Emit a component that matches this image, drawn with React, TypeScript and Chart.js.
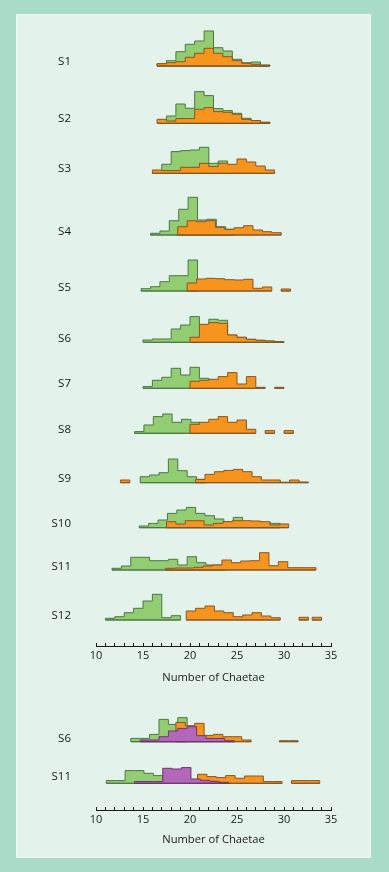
import React, { useEffect, useRef } from "react";
import { Chart, registerables } from "chart.js";

Chart.register(...registerables);

type Series = { start: number; h: (number | null)[] };

// ---------------- data ----------------
const X_MIN = 10;
const X_MAX = 35;
const X_LABEL_STEP = 5;
const X_TITLE = "Number of Chaetae";

const TOP_ROWS = ["S1", "S2", "S3", "S4", "S5", "S6", "S7", "S8", "S9", "S10", "S11", "S12"];
const BOTTOM_ROWS = ["S6", "S11"];

// heights of each one-chaeta bin, starting at `start` (left bin edge)
const S1_GREEN: Series = { start: 16.5, h: [2.3, 5.3, 14.3, 21.7, 25, 35, 18.3, 15, 6.7, 3.3, 4, 1] };
const S1_ORANGE: Series = { start: 16.5, h: [2.3, 3.3, 4.3, 8.7, 12.7, 17.7, 12.7, 9.3, 5.3, 2.7, 1.7, 0.7] };
const S2_GREEN: Series = { start: 17.5, h: [7.3, 19.3, 15, 31.7, 27.7, 14.7, 12.7, 10, 5, 2.7, 1] };
const S2_ORANGE: Series = { start: 16.5, h: [4, 2.3, 4.7, 4.7, 14, 15.7, 11.7, 11, 9, 4, 2.7, 1] };
const S3_GREEN: Series = { start: 17, h: [9, 21.7, 22.7, 23.3, 26, 10, 12.3, 8] };
const S3_ORANGE: Series = { start: 16, h: [3.3, 2.7, 2.7, 6, 6, 10, 6.7, 10, 9, 14.3, 11.3, 7.3, 3.3] };
const S4_GREEN: Series = { start: 15.8, h: [1.7, 4, 14.3, 25.7, 37.7, 15, 15.7, 8.3, 5.7] };
const S4_ORANGE: Series = { start: 18.7, h: [8.3, 14.3, 13.3, 14.3, 7.7, 5.7, 7.3, 9.3, 5, 3.3, 2.3] };
const S5_GREEN: Series = { start: 14.8, h: [2.3, 4.3, 9.3, 15.3, 15.3, 31] };
const S5_ORANGE: Series = { start: 19.7, h: [8, 12, 12.7, 12.3, 11.3, 11, 11.7, 2.7, 4, null, 2] };
const S6_GREEN: Series = { start: 15, h: [2.3, 3.3, 3.3, 13.3, 17.3, 25.7, 17.3, 23, 22, 7.3, 5, 3, 2, 1.3, 0.7] };
const S6_ORANGE: Series = { start: 20, h: [5, 18, 19.7, 19, 7.3, 5, 3, 2, 1.3, 0.7] };
const S7_GREEN: Series = { start: 15, h: [1.7, 8, 11, 20, 13.3, 21, 10, 6] };
const S7_ORANGE: Series = { start: 20, h: [7, 8, 9, 11.7, 15.7, 4.3, 11.7, 1, null, 1] };
const S8_GREEN: Series = { start: 14.1, h: [1.7, 8.3, 16.7, 19.3, 11, 14, 11] };
const S8_ORANGE: Series = { start: 20, h: [9, 11, 14, 16.7, 11, 13.3, 4, null, 2.7, null, 2.7] };
const S9_GREEN: Series = { start: 14.7, h: [6, 7.7, 10, 23.7, 12, 6, 3.3] };
const S9_ORANGE: Series = { start: 12.6, h: [2.7, null, null, null, null, null, null, null, 3.3, 8.3, 11, 12.3, 13.3, 11, 6, 2.7, 2.7, 0.5, 2.7, 0.7] };
const S10_GREEN: Series = { start: 14.6, h: [1.7, 4.3, 7.7, 14.3, 17.7, 20.3, 14.3, 12, 8.7, 6, 10.3, 6, 6, 5, 4.3] };
const S10_ORANGE: Series = { start: 17.5, h: [6, 3.7, 7, 7, 2.7, 4.3, 6, 7, 7, 6.7, 6, 2.7, 3.7] };
const S11_GREEN: Series = { start: 11.7, h: [1.7, 4, 12.7, 12.7, 9.3, 9.3, 10.7, 5, 13.3, 7.3, 5, 5] };
const S11_ORANGE: Series = { start: 17.4, h: [1.7, 2, 2, 2.7, 4, 5, 10, 7.3, 9, 9.3, 17.3, 4.3, 8.3, 2.3, 2.3, 2.3] };
const S12_GREEN: Series = { start: 11, h: [1.7, 3.3, 7.3, 11.7, 19, 25.7, 2.3, 4.3] };
const S12_ORANGE: Series = { start: 19.6, h: [9, 11.7, 14, 9, 7.3, 3.3, 5, 7.3, 4, 2.3, null, null, 2.7] };
const S12_ORANGE_TAIL: Series = { start: 33, h: [2.7] };

const B6_GREEN: Series = { start: 13.7, h: [3.3, 3.3, 7.3, 22.3, 17.3, 24] };
const B6_ORANGE: Series = { start: 18.5, h: [19.3, 16, 18.3, 6.3, 7.3, 5, 5, 1.7, null, null, null, 1, 1] };
const B6_PURPLE: Series = { start: 14.7, h: [1.7, 1.7, 5, 10.7, 13.3, 15, 6, 3.3, 3.3, 1] };
const B11_GREEN: Series = { start: 11.1, h: [2.7, 2.7, 12.7, 12.7, 10, 7.7] };
const B11_ORANGE: Series = { start: 20.8, h: [9, 6.7, 5.7, 7.7, 5, 7.3, 7.3, 1.7, 1.7, null, 2.7, 2.7, 2.7] };
const B11_PURPLE: Series = { start: 14.1, h: [1.7, 1.7, 1.7, 15, 14.3, 15.7, 4.3, 3, 2, 1] };

const TOP_GREEN = [S1_GREEN, S2_GREEN, S3_GREEN, S4_GREEN, S5_GREEN, S6_GREEN, S7_GREEN, S8_GREEN, S9_GREEN, S10_GREEN, S11_GREEN, S12_GREEN];
const TOP_ORANGE = [S1_ORANGE, S2_ORANGE, S3_ORANGE, S4_ORANGE, S5_ORANGE, S6_ORANGE, S7_ORANGE, S8_ORANGE, S9_ORANGE, S10_ORANGE, S11_ORANGE, S12_ORANGE];
const BOTTOM_GREEN = [B6_GREEN, B11_GREEN];
const BOTTOM_ORANGE = [B6_ORANGE, B11_ORANGE];
const BOTTOM_PURPLE = [B6_PURPLE, B11_PURPLE];

// ---------------- layout (row baselines, in y-scale units = px above the axis) ----------------
const TOP_BASE = [577, 519.7, 469.7, 408, 352, 300.7, 254.7, 209.7, 160.3, 115.3, 73, 23];
const TOP_LABEL_AT = [581, 524, 474, 411.5, 355.5, 304, 259, 213, 164.5, 119, 76, 27];
const BOTTOM_BASE = [65.3, 23.7];
const BOTTOM_LABEL_AT = [68.5, 30];

// ---------------- styles ----------------
const GREEN = { fill: "#93cd72", line: "#4d7646" };
const ORANGE = { fill: "#f7941e", line: "#855522" };
const PURPLE = { fill: "#b466b8", line: "#6c3570" };
const TEXT = "#1a1a1a";
const FONT = "'Open Sans', 'Noto Sans', sans-serif";
const TICK_LEN = 3;

function pieces(series: Series, base: number, style: { fill: string; line: string }, order: number) {
  const out: any[] = [];
  const h = series.h;
  let i = 0;
  while (i < h.length) {
    if (h[i] == null) { i++; continue; }
    let j = i;
    while (j < h.length && h[j] != null) j++;
    const pts: { x: number; y: number }[] = [{ x: series.start + i, y: base }];
    for (let k = i; k < j; k++) pts.push({ x: series.start + k, y: base + (h[k] as number) });
    pts.push({ x: series.start + j, y: base });
    pts.push({ x: series.start + i, y: base });
    pts.push({ x: series.start + j, y: base });
    out.push({
      type: "line",
      data: pts,
      stepped: true,
      fill: { value: base },
      backgroundColor: style.fill,
      borderColor: style.line,
      borderWidth: 1,
      borderJoinStyle: "miter",
      pointRadius: 0,
      pointHoverRadius: 0,
      tension: 0,
      clip: false,
      order,
    });
    i = j;
  }
  return out;
}

const axisLine = {
  id: "axisLine",
  afterDraw(chart: any) {
    const xs = chart.scales.x;
    const ctx = chart.ctx;
    const y = Math.round(chart.chartArea.bottom + TICK_LEN) + 0.5;
    ctx.save();
    ctx.strokeStyle = TEXT;
    ctx.lineWidth = 1;
    ctx.beginPath();
    ctx.moveTo(Math.round(xs.getPixelForValue(X_MIN)), y);
    ctx.lineTo(Math.round(xs.getPixelForValue(X_MAX)) + 1, y);
    ctx.stroke();
    ctx.restore();
  },
};

function makeChart(
  canvas: HTMLCanvasElement,
  opts: { rows: string[]; labelAt: number[]; datasets: any[]; yMax: number; padTop: number; xHeight: number; titlePad: number }
) {
  return new Chart(canvas, {
    type: "line",
    data: { datasets: opts.datasets },
    plugins: [axisLine],
    options: {
      responsive: false,
      animation: false,
      devicePixelRatio: 1,
      events: [],
      layout: { padding: { left: 0, right: 58, top: opts.padTop, bottom: 0 } },
      plugins: { legend: { display: false }, tooltip: { enabled: false } },
      scales: {
        x: {
          type: "linear",
          min: X_MIN,
          max: X_MAX,
          afterFit: (s: any) => { s.height = opts.xHeight; },
          border: { display: false },
          grid: { display: true, drawOnChartArea: false, drawTicks: true, tickLength: TICK_LEN, tickColor: TEXT, tickWidth: 1 },
          ticks: {
            stepSize: 1,
            maxTicksLimit: 100,
            autoSkip: false,
            maxRotation: 0,
            padding: 3,
            color: TEXT,
            font: { family: FONT, size: 11 },
            callback: (v: any) => (Number(v) % X_LABEL_STEP === 0 ? String(v) : ""),
          },
          title: {
            display: true,
            text: X_TITLE,
            color: TEXT,
            font: { family: FONT, size: 11.2 },
            padding: { top: 0, bottom: opts.titlePad },
          },
        },
        y: {
          type: "linear",
          min: 0,
          max: opts.yMax,
          afterFit: (s: any) => { s.width = 96; s.paddingTop = 0; s.paddingBottom = 0; },
          afterBuildTicks: (s: any) => { s.ticks = opts.labelAt.map((v) => ({ value: v })); },
          border: { display: false },
          grid: { display: false, drawTicks: false },
          ticks: {
            autoSkip: false,
            padding: 25,
            color: TEXT,
            font: { family: FONT, size: 11.5 },
            callback: (v: any) => {
              const i = opts.labelAt.indexOf(Number(v));
              return i >= 0 ? opts.rows[i] : "";
            },
          },
        },
      },
    } as any,
  });
}

export default function App() {
  const topRef = useRef<HTMLCanvasElement | null>(null);
  const botRef = useRef<HTMLCanvasElement | null>(null);

  useEffect(() => {
    const topSets: any[] = [];
    TOP_ROWS.forEach((_, r) => {
      topSets.push(...pieces(TOP_ORANGE[r], TOP_BASE[r], ORANGE, 0));
      topSets.push(...pieces(TOP_GREEN[r], TOP_BASE[r], GREEN, 1));
    });
    topSets.push(...pieces(S12_ORANGE_TAIL, TOP_BASE[11], ORANGE, 0));

    const botSets: any[] = [];
    BOTTOM_ROWS.forEach((_, r) => {
      botSets.push(...pieces(BOTTOM_PURPLE[r], BOTTOM_BASE[r], PURPLE, 0));
      botSets.push(...pieces(BOTTOM_ORANGE[r], BOTTOM_BASE[r], ORANGE, 1));
      botSets.push(...pieces(BOTTOM_GREEN[r], BOTTOM_BASE[r], GREEN, 2));
    });

    // chart area bottom: 643 (top canvas), 107 (bottom canvas)
    const c1 = makeChart(topRef.current!, {
      rows: TOP_ROWS, labelAt: TOP_LABEL_AT, datasets: topSets, yMax: 643 - 20, padTop: 20, xHeight: 57, titlePad: 15,
    });
    const c2 = makeChart(botRef.current!, {
      rows: BOTTOM_ROWS, labelAt: BOTTOM_LABEL_AT, datasets: botSets, yMax: 107 - 5, padTop: 5, xHeight: 53, titlePad: 13,
    });
    return () => { c1.destroy(); c2.destroy(); };
  }, []);

  return (
    <div style={{ position: "absolute", left: 0, top: 0, width: 389, height: 872, background: "#a9dcc6", overflow: "hidden" }}>
      <div style={{ position: "absolute", left: 16, top: 14, width: 355, height: 844, boxSizing: "border-box", background: "#e3f2ea", border: "1px solid #f3faf6" }} />
      <canvas ref={topRef} width={389} height={700} style={{ position: "absolute", left: 0, top: 0, width: 389, height: 700 }} />
      <canvas ref={botRef} width={389} height={160} style={{ position: "absolute", left: 0, top: 700, width: 389, height: 160 }} />
    </div>
  );
}
